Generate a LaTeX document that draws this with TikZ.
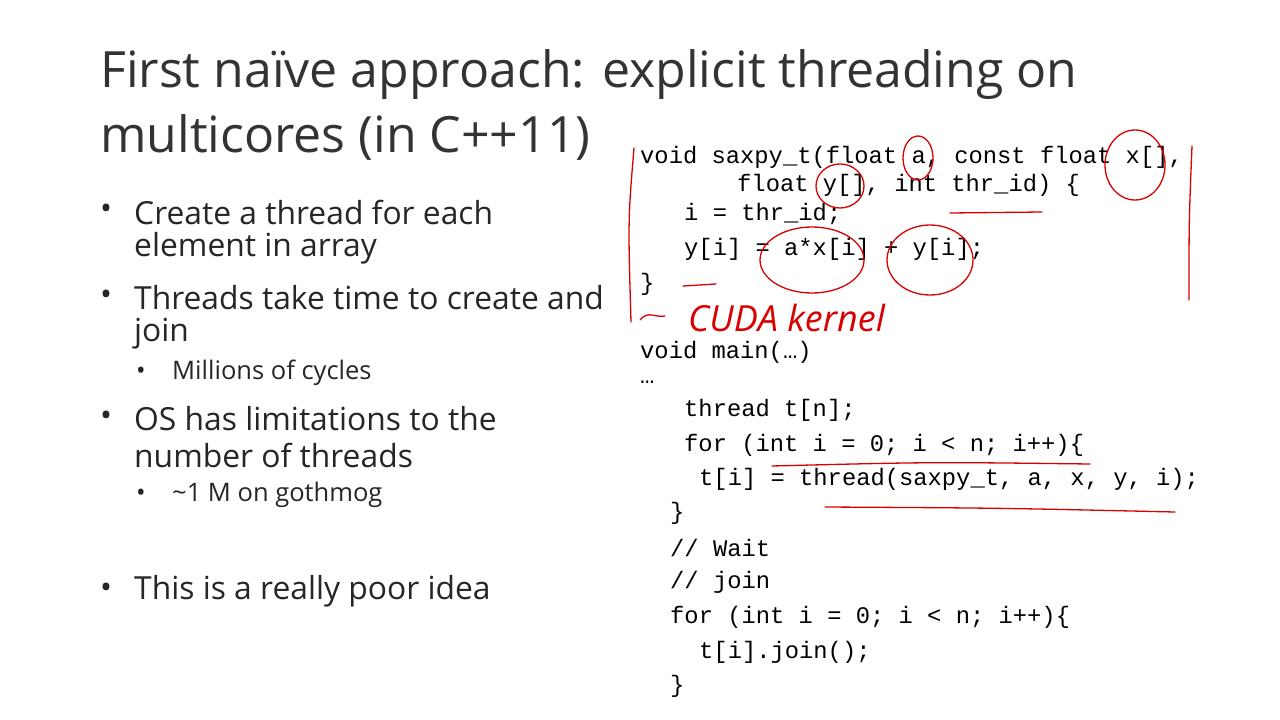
\documentclass[tikz,border=0pt]{standalone}
\usepackage{fontspec}
\setmainfont{Open Sans}
\newfontfamily\codefont{Liberation Mono}
\begin{document}
\begin{tikzpicture}[x=1pt,y=-1pt,
  title/.style={anchor=west,font=\fontsize{50}{50}\selectfont,text=black!80,inner sep=0},
  bul/.style={anchor=west,font=\fontsize{31.8}{31.8}\selectfont,text=black!85,inner sep=0},
  sub/.style={anchor=west,font=\fontsize{25.5}{25.5}\selectfont,text=black!85,inner sep=0},
  code/.style={anchor=west,font=\codefont\fontsize{23.8}{23.8}\selectfont,inner sep=0},
  ink/.style={draw=red!85!black,line width=1.3pt,line cap=round}]
\useasboundingbox[fill=white] (0,0) rectangle (1280,720);
\node[title] (t1) at (100,75) {First naïve approach: explicit threading on};
\node[title] (t2) at (100,137) {multicores (in C++11)};
\foreach \y/\t [count=\i] in {212/Create a thread for each,248/element in array,298/Threads take time to create and,334/join,419/OS has limitations to the,455/number of threads,591/This is a really poor idea}
  \node[bul] (b\i) at (134,\y) {\t};
\foreach \y in {212,298,419,591} \node[bul] at (100,\y) {•};
\node[sub] (s1) at (172,373) {Millions of cycles};
\node[sub] (s2) at (172,495) {\textasciitilde1 M on gothmog};
\foreach \y in {373,495} \node[sub] at (136,\y) {•};
\node[code] (c1) at (640,157) {void saxpy\_t(float a, const float x[],};
\node[code] (c2) at (737,185) {float y[], int thr\_id) \{};
\node[code] (c3) at (684,214) {i = thr\_id;};
\node[code] (c4) at (684,249) {y[i] = a*x[i] + y[i];};
\node[code] (c5) at (640,284) {\}};
\node[code] (c6) at (640,352) {void main(…)};
\node[code] (c7) at (640,382) {…};
\node[code] (c8) at (684,410) {thread t[n];};
\node[code] (c9) at (684,445) {for (int i = 0; i < n; i++)\{};
\node[code] (c10) at (699,479) {t[i] = thread(saxpy\_t, a, x, y, i);};
\node[code] (c11) at (670,513) {\}};
\node[code] (c12) at (670,548) {// Wait};
\node[code] (c13) at (670,582) {// join};
\node[code] (c14) at (670,617) {for (int i = 0; i < n; i++)\{};
\node[code] (c15) at (699,652) {t[i].join();};
\node[code] (c16) at (670,686) {\}};
% annotations
\draw[ink] (918,158) ellipse (15 and 22);
\draw[ink] (1135,165) ellipse (30 and 35);
\draw[ink] (840,186) ellipse (24 and 22);
\draw[ink] (812,260) ellipse (52 and 33);
\draw[ink] (930,260) ellipse (43 and 35);
\draw[ink] (634,148) .. controls (628,220) .. (631,322);
\draw[ink] (1192,146) .. controls (1189,220) .. (1189,300);
\draw[ink] (950,213) -- (1042,212);
\draw[ink] (683,286) -- (716,284);
\draw[ink] (772,466) .. controls (930,462) .. (1090,464);
\draw[ink] (825,507) .. controls (1000,508) .. (1175,512);
\draw[ink] (640,320) .. controls (648,310) and (655,318) .. (665,316);
\node[anchor=west,text=red!85!black,font=\fontsize{36}{36}\selectfont\itshape,inner sep=0] (cuda) at (688,318) {CUDA kernel};
\end{tikzpicture}
\end{document}
